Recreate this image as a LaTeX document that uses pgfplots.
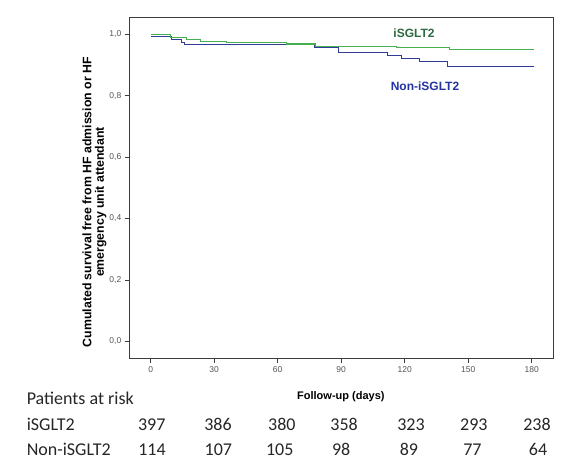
\documentclass[border=0pt]{standalone}
\usepackage{fontspec}
\setmainfont{Liberation Sans}
\newfontfamily\calibri{Carlito}[Numbers=Lining]
\usepackage{pgfplots}
\pgfplotsset{compat=1.18}

\definecolor{kmgreen}{RGB}{70,175,80}
\definecolor{kmblue}{RGB}{50,60,150}
\definecolor{lblgreen}{RGB}{45,105,65}
\definecolor{lblblue}{RGB}{35,50,160}
\definecolor{tickgray}{RGB}{85,85,85}
\definecolor{axisgray}{RGB}{60,60,60}

\begin{document}
\begin{tikzpicture}
% whole picture = 588 x 463 (1px = 1pt), axis box lower left at origin
\path[use as bounding box] (-129.3pt,-104.7pt) rectangle (458.7pt,358.3pt);
\begin{axis}[
    at={(0,0)}, anchor=south west,
    scale only axis, width=424pt, height=341pt,
    xmin=-10.1, xmax=190.2, ymin=-0.055, ymax=1.055,
    xtick={0,30,...,180}, ytick={0,0.2,0.4,0.6,0.8,1.0},
    tick pos=left, tick align=outside, major tick length=4.5pt,
    axis line style={axisgray, line width=0.9pt},
    tick style={axisgray, line width=0.8pt},
    /pgf/number format/assume math mode=true,
    ticklabel style={font=\fontsize{8.5}{10}\selectfont, text=tickgray},
    y tick label style={/pgf/number format/fixed, /pgf/number format/fixed zerofill,
        /pgf/number format/precision=1, /pgf/number format/use comma},
    xlabel={Follow-up (days)},
    xlabel style={font=\fontsize{11}{13}\selectfont\bfseries,
        at={(axis description cs:0.499,-0.113)}, anchor=center},
    ylabel={Cumulated survival free from HF admission or HF\\emergency unit attendant},
    ylabel style={font=\fontsize{12.3}{12.5}\selectfont\bfseries, align=center,
        at={(axis description cs:-0.082,0.458)}, anchor=center},
    clip=false,
]
% Non-iSGLT2
\addplot[const plot, kmblue, line width=1pt] coordinates {
    (0,0.991) (9.9,0.982) (14.6,0.974) (16.2,0.965) (77.6,0.956) (88.6,0.939)
    (112,0.930) (118.6,0.921) (127.2,0.912) (140.4,0.895) (181.2,0.895)
};
% iSGLT2
\addplot[const plot, kmgreen, line width=1.1pt] coordinates {
    (0,0.998) (9.5,0.989) (17,0.984) (23.5,0.977) (36,0.973) (64,0.968)
    (78,0.960) (116,0.957) (141,0.951) (181.2,0.951)
};
\node[font=\fontsize{12}{14}\selectfont\bfseries, text=lblgreen] at (axis cs:124.4,1.003) {iSGLT2};
\node[font=\fontsize{12}{14}\selectfont\bfseries, text=lblblue] at (axis cs:129.6,0.830) {Non-iSGLT2};

% patients at risk table
\begin{scope}[every node/.style={font=\calibri\fontsize{18}{20}\selectfont, text=black!85, anchor=base}]
\node[anchor=base west] at (axis cs:-60.2,-0.206) {Patients at risk};
\node[anchor=base west] at (axis cs:-60.2,-0.291) {iSGLT2};
\node[anchor=base west] at (axis cs:-60.2,-0.370) {Non-iSGLT2};
\node at (axis cs:0.5,-0.291) {397};
\node at (axis cs:31.8,-0.291) {386};
\node at (axis cs:62,-0.291) {380};
\node at (axis cs:91.4,-0.291) {358};
\node at (axis cs:123,-0.291) {323};
\node at (axis cs:152.7,-0.291) {293};
\node at (axis cs:182.5,-0.291) {238};
\node at (axis cs:0.6,-0.370) {114};
\node at (axis cs:32,-0.370) {107};
\node at (axis cs:61,-0.370) {105};
\node at (axis cs:90,-0.370) {98};
\node at (axis cs:122,-0.370) {89};
\node at (axis cs:152,-0.370) {77};
\node at (axis cs:183,-0.370) {64};
\end{scope}
\end{axis}
\end{tikzpicture}
\end{document}
